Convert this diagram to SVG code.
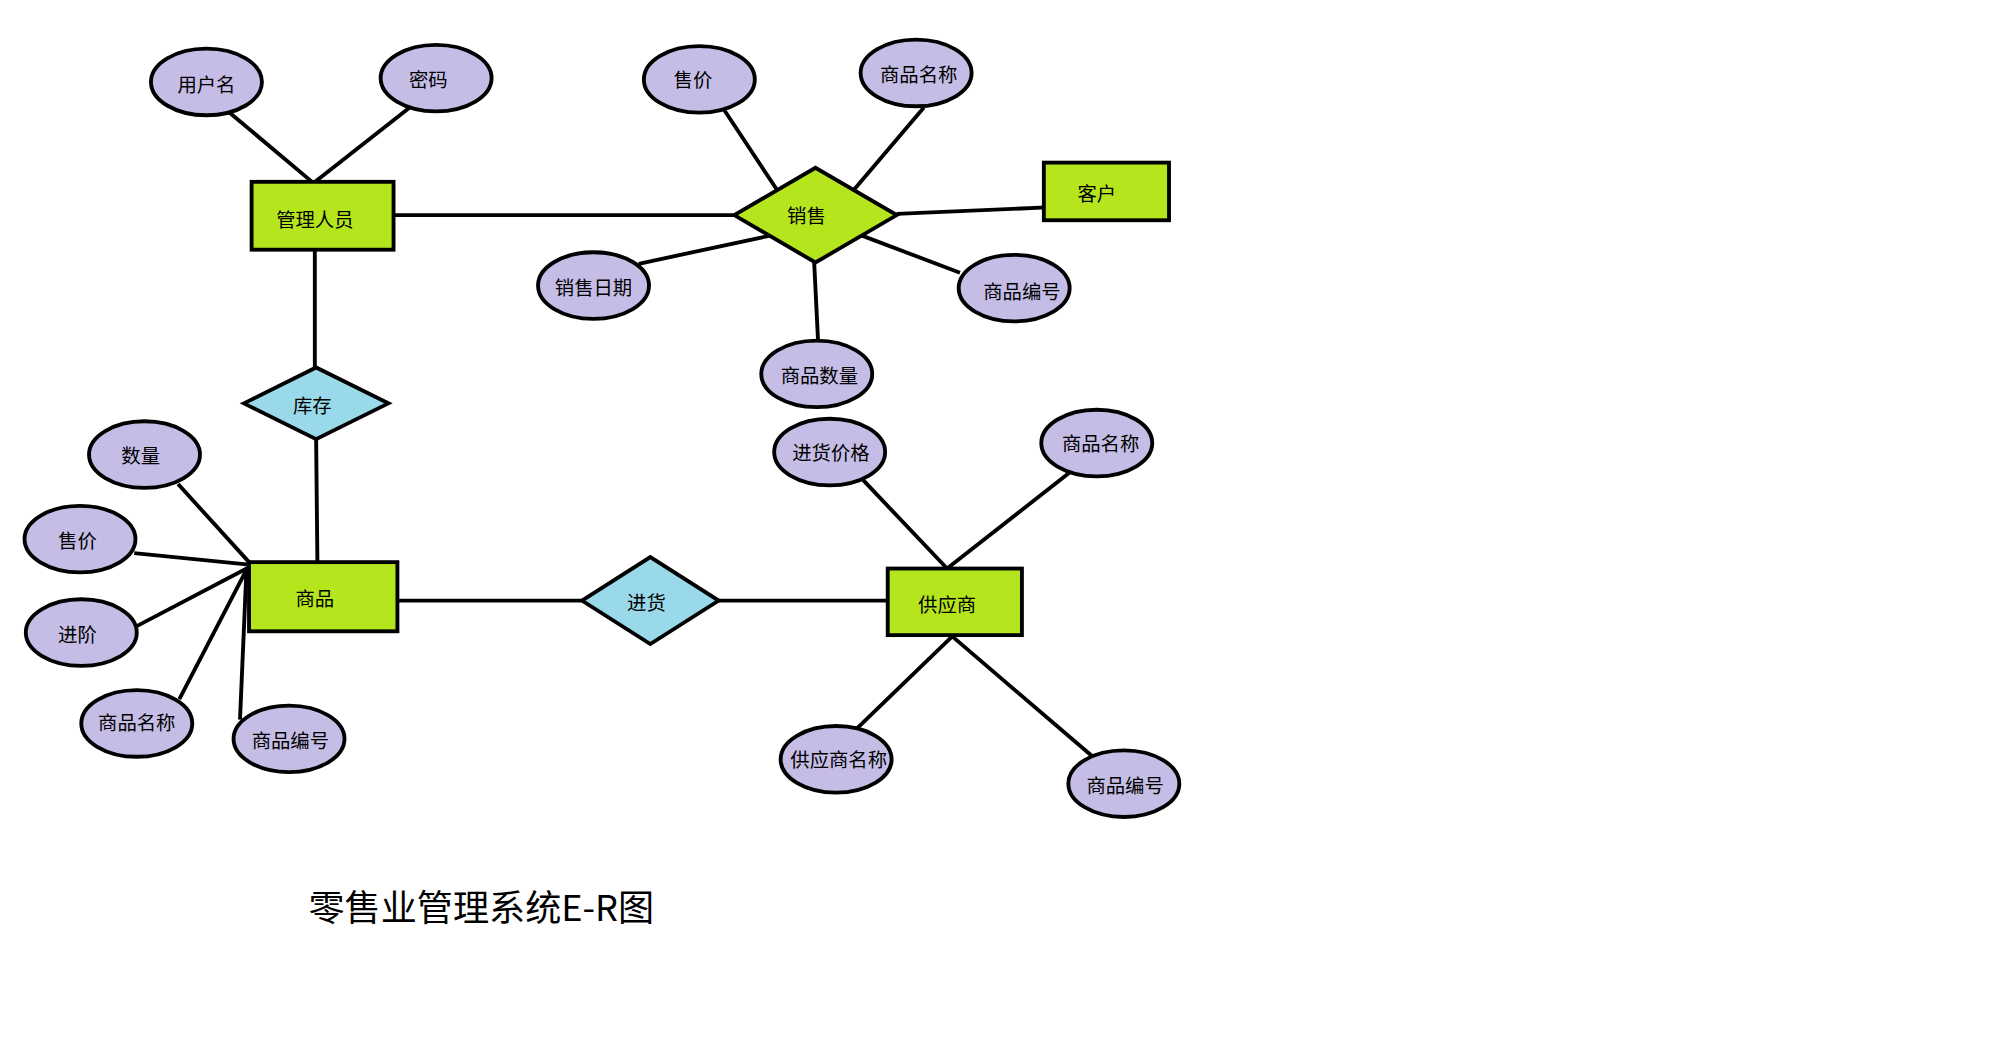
<svg xmlns="http://www.w3.org/2000/svg" width="2000" height="1050" viewBox="0 0 2000 1050">
<style>
.a{fill:#c5bde6;stroke:#000;stroke-width:3}
.e{fill:#b5e61d;stroke:#000;stroke-width:3}
.r{fill:#99d9ea;stroke:#000;stroke-width:3}
.l{stroke:#000;stroke-width:3;fill:none}
text{font-family:"Microsoft YaHei","Noto Sans CJK SC",sans-serif;font-size:15px;text-anchor:middle;dominant-baseline:central;fill:#000}
</style>
<rect width="2000" height="1050" fill="#fff"/>
<g transform="scale(1.2903,1.2805)">
<g id="connectors">
<path class="l" d="M178,88L243,143M320,82L243,143M305,168H569M560,84L602,148M716,84L662,148M695,167L811,162M495,206L597,184M744,213L668,184M631,205L634,266M244,195V287M245,343L246,439M138,378L193,439M104,432L193,441M106,489L193,443M139,546L191,445M186,562L191,445M308,469H451M557,469H688M669,375L734,444M829,369L734,444M662,571L738,497M847,591L738,497"/>
</g>
<g id="admin"><rect class="e" x="195" y="142" width="110" height="53"/><text x="244" y="171">管理人员</text></g>
<g id="customer"><rect class="e" x="809" y="127" width="97" height="45"/><text x="850" y="151">客户</text></g>
<g id="goods"><rect class="e" x="193" y="439" width="115" height="54"/><text x="244" y="467">商品</text></g>
<g id="supplier"><rect class="e" x="688" y="444" width="104" height="52"/><text x="734" y="472">供应商</text></g>
<g id="sale"><polygon class="e" points="569,168 632,131 695,168 632,205"/><text x="625" y="168">销售</text></g>
<g id="stock"><polygon class="r" points="189,315 245,287 301,315 245,343"/><text x="242" y="316">库存</text></g>
<g id="purchase"><polygon class="r" points="451,469 504,435 557,469 504,503"/><text x="501" y="470">进货</text></g>
<g id="a1"><ellipse class="a" cx="160" cy="64" rx="43" ry="26"/><text x="160" y="66">用户名</text></g>
<g id="a2"><ellipse class="a" cx="338" cy="61" rx="43" ry="26"/><text x="332" y="62">密码</text></g>
<g id="a3"><ellipse class="a" cx="542" cy="62" rx="43" ry="26"/><text x="537" y="62">售价</text></g>
<g id="a4"><ellipse class="a" cx="710" cy="57" rx="43" ry="26"/><text x="712" y="58">商品名称</text></g>
<g id="a5"><ellipse class="a" cx="460" cy="223" rx="43" ry="26"/><text x="460" y="224">销售日期</text></g>
<g id="a6"><ellipse class="a" cx="786" cy="225" rx="43" ry="26"/><text x="792" y="227">商品编号</text></g>
<g id="a7"><ellipse class="a" cx="633" cy="292" rx="43" ry="26"/><text x="635" y="293">商品数量</text></g>
<g id="a8"><ellipse class="a" cx="643" cy="353" rx="43" ry="26"/><text x="644" y="353">进货价格</text></g>
<g id="a9"><ellipse class="a" cx="850" cy="346" rx="43" ry="26"/><text x="853" y="346">商品名称</text></g>
<g id="a10"><ellipse class="a" cx="112" cy="355" rx="43" ry="26"/><text x="109" y="355">数量</text></g>
<g id="a11"><ellipse class="a" cx="62" cy="421" rx="43" ry="26"/><text x="60" y="422">售价</text></g>
<g id="a12"><ellipse class="a" cx="63" cy="494" rx="43" ry="26"/><text x="60" y="495">进阶</text></g>
<g id="a13"><ellipse class="a" cx="106" cy="565" rx="43" ry="26"/><text x="106" y="564">商品名称</text></g>
<g id="a14"><ellipse class="a" cx="224" cy="577" rx="43" ry="26"/><text x="225" y="578">商品编号</text></g>
<g id="a15"><ellipse class="a" cx="648" cy="593" rx="43" ry="26"/><text x="650" y="593">供应商名称</text></g>
<g id="a16"><ellipse class="a" cx="871" cy="612" rx="43" ry="26"/><text x="872" y="613">商品编号</text></g>
<text x="373" y="707" style="font-size:28px">零售业管理系统E-R图</text>
</g>
</svg>
